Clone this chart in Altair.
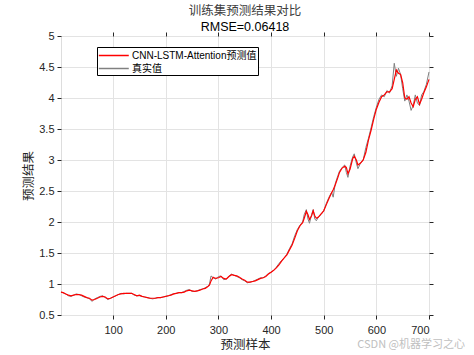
import altair as alt
import pandas as pd

# ---- data ----
sample_idx = [1, 5, 10, 15, 20, 25, 30, 35, 40, 45, 50, 55, 60, 65, 70, 75, 80, 85, 90, 95,
              100, 105, 110, 115, 120, 125, 130, 135, 140, 145, 150, 155, 160, 165, 170, 175, 180, 185, 190, 195,
              200, 205, 210, 215, 220, 225, 230, 235, 240, 245, 250, 255, 260, 265, 270, 275, 280, 283, 286, 290,
              295, 300, 305, 310, 315, 320, 325, 330, 335, 340, 345, 350, 355, 360, 365, 370, 375, 380, 385, 390,
              395, 400, 405, 410, 415, 420, 425, 430, 435, 440, 445, 450, 455, 460, 463, 467, 470, 473, 477, 480,
              483, 486, 490, 495, 500, 505, 510, 515, 518, 522, 527, 530, 535, 540, 543, 546, 550, 555, 558, 562,
              565, 570, 575, 580, 585, 590, 595, 600, 605, 610, 615, 620, 625, 630, 634, 638, 642, 646, 650, 654,
              658, 662, 666, 670, 674, 678, 682, 686, 690, 695, 700]

actual = [0.87, 0.86, 0.84, 0.81, 0.80, 0.82, 0.84, 0.83, 0.81, 0.79, 0.78, 0.76, 0.72, 0.76, 0.78, 0.80, 0.81, 0.78, 0.75, 0.77,
          0.79, 0.81, 0.83, 0.85, 0.84, 0.85, 0.85, 0.85, 0.82, 0.81, 0.81, 0.80, 0.79, 0.78, 0.77, 0.76, 0.77, 0.78, 0.78, 0.79,
          0.80, 0.81, 0.83, 0.84, 0.85, 0.86, 0.86, 0.88, 0.90, 0.91, 0.88, 0.88, 0.89, 0.91, 0.92, 0.94, 0.96, 1.00, 1.13, 1.10,
          1.08, 1.12, 1.13, 1.07, 1.08, 1.13, 1.16, 1.14, 1.12, 1.10, 1.07, 1.05, 1.02, 1.03, 1.04, 1.06, 1.08, 1.10, 1.10, 1.13,
          1.17, 1.19, 1.22, 1.27, 1.33, 1.38, 1.42, 1.48, 1.57, 1.65, 1.78, 1.88, 1.95, 2.00, 2.12, 2.20, 2.05, 1.98, 2.12, 2.20,
          2.05, 2.02, 2.08, 2.12, 2.18, 2.30, 2.40, 2.48, 2.40, 2.62, 2.75, 2.82, 2.88, 2.92, 2.80, 2.72, 2.90, 3.05, 3.10, 2.95,
          2.86, 2.95, 3.00, 3.20, 3.35, 3.52, 3.70, 3.85, 3.98, 4.05, 4.02, 4.12, 4.08, 4.20, 4.56, 4.35, 4.48, 4.38, 4.15, 3.95,
          4.05, 3.95, 3.80, 3.88, 4.05, 3.92, 3.88, 4.05, 4.10, 4.22, 4.42]

predicted = [0.87, 0.86, 0.84, 0.82, 0.81, 0.82, 0.83, 0.83, 0.82, 0.80, 0.78, 0.77, 0.74, 0.75, 0.77, 0.79, 0.80, 0.79, 0.76, 0.77,
             0.79, 0.81, 0.83, 0.84, 0.85, 0.85, 0.85, 0.85, 0.83, 0.81, 0.82, 0.80, 0.79, 0.78, 0.77, 0.77, 0.77, 0.78, 0.78, 0.79,
             0.80, 0.81, 0.82, 0.84, 0.85, 0.86, 0.86, 0.87, 0.89, 0.90, 0.89, 0.88, 0.89, 0.90, 0.92, 0.93, 0.96, 0.98, 1.05, 1.11,
             1.09, 1.10, 1.12, 1.09, 1.08, 1.12, 1.15, 1.14, 1.13, 1.11, 1.08, 1.06, 1.03, 1.03, 1.04, 1.05, 1.07, 1.09, 1.10, 1.12,
             1.16, 1.19, 1.22, 1.26, 1.31, 1.37, 1.42, 1.47, 1.55, 1.63, 1.74, 1.86, 1.94, 1.99, 2.06, 2.17, 2.12, 2.04, 2.10, 2.18,
             2.10, 2.06, 2.08, 2.13, 2.18, 2.28, 2.38, 2.47, 2.52, 2.60, 2.72, 2.80, 2.87, 2.90, 2.88, 2.78, 2.85, 3.02, 3.06, 3.00,
             2.92, 2.95, 3.00, 3.12, 3.32, 3.48, 3.66, 3.82, 3.93, 4.02, 4.05, 4.10, 4.10, 4.15, 4.30, 4.45, 4.40, 4.38, 4.25, 4.00,
             3.98, 4.02, 3.92, 3.86, 3.98, 4.02, 3.90, 3.98, 4.08, 4.18, 4.30]

x_ticks = [100, 200, 300, 400, 500, 600, 700]
y_ticks = [0.5, 1, 1.5, 2, 2.5, 3, 3.5, 4, 4.5, 5]

pred_name = "CNN-LSTM-Attention预测值"
true_name = "真实值"
series_names = [pred_name, true_name]
series_colors = ["#ff0000", "#808080"]

title_text = "训练集预测结果对比"
subtitle_text = "RMSE=0.06418"
x_title = "预测样本"
y_title = "预测结果"
watermark = ["CSDN @机器学习之心"]

df_true = pd.DataFrame({"sample": sample_idx, "value": actual, "series": true_name})
df_pred = pd.DataFrame({"sample": sample_idx, "value": predicted, "series": pred_name})
df_mark = pd.DataFrame({"txt": watermark})

FONT = "Liberation Sans, Arial, Noto Sans CJK SC, sans-serif"
CJK = "Noto Sans CJK SC"
AX = "#262626"

xs = alt.Scale(domain=[1, 700], nice=False, zero=False)
ys = alt.Scale(domain=[0.5, 5], nice=False, zero=False)

color = alt.Color(
    "series:N",
    scale=alt.Scale(domain=series_names, range=series_colors),
    legend=alt.Legend(
        title=None, orient="none", legendX=36, legendY=11,
        direction="vertical",
        strokeColor="#000000", fillColor="white", padding=1,
        symbolType="M-1,0L3.47,0", symbolSize=180, symbolStrokeWidth=1.5,
        labelFont=FONT, labelFontSize=10, labelColor="#000000",
        labelOffset=19, rowPadding=0,
    ),
)

x_main = alt.X("sample:Q", scale=xs, axis=alt.Axis(
    values=x_ticks, title=x_title, titleFont=CJK, titleFontSize=12.5, titleFontWeight="normal",
    titleColor=AX, titlePadding=3, labelFont=FONT, labelFontSize=11, labelColor=AX,
    tickColor=AX, tickSize=4, labelPadding=5, domain=False, grid=True,
    gridColor="#e3e3e3", format="d"))
y_main = alt.Y("value:Q", scale=ys, axis=alt.Axis(
    values=y_ticks, title=y_title, titleFont=CJK, titleFontSize=12.5, titleFontWeight="normal",
    titleColor=AX, titlePadding=3, labelFont=FONT, labelFontSize=11, labelColor=AX,
    tickColor=AX, tickSize=4, labelPadding=3, domain=False, grid=True,
    gridColor="#e3e3e3", format="~g"))

gray = alt.Chart(df_true).mark_line(strokeWidth=1).encode(x=x_main, y=y_main, color=color)
red = alt.Chart(df_pred).mark_line(strokeWidth=1.2).encode(
    x=alt.X("sample:Q", scale=xs, axis=None),
    y=alt.Y("value:Q", scale=ys, axis=None),
    color=color)

frame = alt.Chart(df_true).mark_line(opacity=0).encode(
    x=alt.X("sample:Q", scale=xs, axis=alt.Axis(
        orient="top", values=x_ticks, title="", labels=False, grid=False,
        domain=False, tickColor=AX, tickSize=4)),
    y=alt.Y("value:Q", scale=ys, axis=alt.Axis(
        orient="right", values=y_ticks, title="", labels=False, grid=False,
        domain=False, tickColor=AX, tickSize=4)),
)

wm = alt.Chart(df_mark).mark_text(
    align="right", baseline="middle", font=CJK, fontSize=11, color="#c0c0c0"
).encode(text="txt:N", x=alt.value(404), y=alt.value(309))

chart = alt.layer(gray, red, frame, wm).resolve_axis(
    x="independent", y="independent"
).properties(
    width=368, height=279,
    autosize=alt.AutoSizeParams(type="none"),
    padding={"left": 61, "top": 36, "right": 45, "bottom": 40},
    title=alt.TitleParams(
        text=title_text, subtitle=subtitle_text, anchor="middle",
        font=CJK, fontSize=12.5, fontWeight="normal", color="#404040",
        subtitleFont=FONT, subtitleFontSize=12.5, subtitleColor="#000000",
        subtitlePadding=3, offset=-3,
    ),
).configure_view(stroke=AX, strokeWidth=1).configure(background="white")

chart.save("out.html", embed_options={"renderer": "svg", "actions": False})
